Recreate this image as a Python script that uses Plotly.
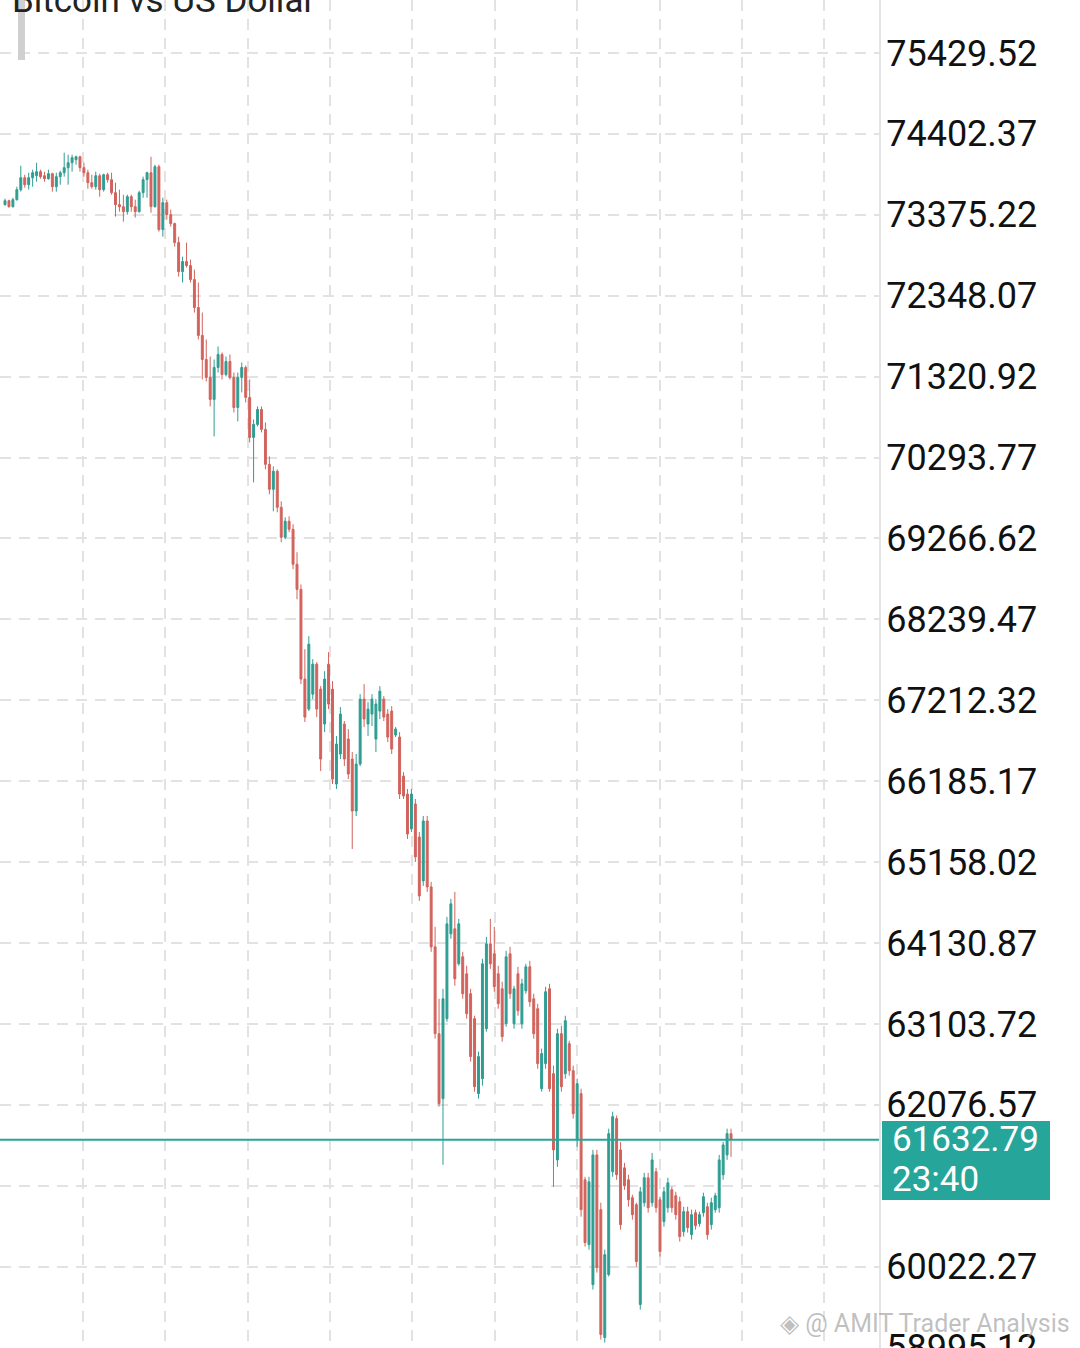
import plotly.graph_objects as go

# OHLC, one candle per slot, left to right
opens = [
    73504, 73554, 73478, 73567, 73694, 73846, 73757, 73846, 73871, 73922,
    73871, 73833, 73897, 73732, 73859, 73909, 73973, 74036, 74074, 74112,
    73973, 73909, 73783, 73732, 73871, 73694, 73884, 73821, 73656, 73504,
    73478, 73415, 73605, 73478, 73415, 73656, 73821, 73909, 73478, 73985,
    73187, 73529, 73377, 73263, 73022, 72654, 72781, 72730, 72553, 72198,
    71843, 71538, 71310, 71031, 71437, 71602, 71348, 71513, 71310, 70929,
    71310, 71437, 71057, 70549, 70714, 70904, 70651, 70207, 69890, 70119,
    69662, 69281, 69485, 69383, 68939,
    68620, 67481, 67100, 67290, 67671, 67354, 66911, 67671, 67354, 66149,
    66530, 66911, 66720, 66466, 65807, 66403, 67227, 66911, 67037, 66720,
    67075, 67227, 67037, 67075, 66771, 66745, 66250, 66022, 65579, 65896,
    65477, 64919, 65680, 64843, 64082, 62980, 62155, 63170, 64247, 64311,
    63867, 63956, 63740, 63487, 63170, 62219, 62409, 63043, 64120, 63994,
    63740, 63550, 63107, 63994, 63107, 63740, 63107, 63525, 63829, 63423,
    63297, 62282, 62600, 63550, 62472, 61378, 62980, 62472, 62853, 62510,
    61631, 62219, 61125, 60303, 59795, 61441, 60746, 59123, 59922, 61227,
    61902, 61505, 61277, 61125, 60898, 60809, 59542, 60834, 61151, 60834,
    61227, 60872, 60594, 60771, 60999, 60923, 60847, 60467, 60721, 60429,
    60708, 60569, 60708, 60784, 60556, 60746, 60771, 61189, 61441, 61711,
]
highs = [
    73580, 73567, 73592, 73732, 73998, 73884, 73909, 73947, 74036, 73947,
    73922, 73947, 73909, 73909, 73935, 74163, 74138, 74138, 74125, 74125,
    74036, 73947, 73884, 73922, 73897, 73897, 73909, 73909, 73783, 73694,
    73630, 73630, 73630, 73567, 73681, 73859, 73922, 74112, 74011, 74011,
    73592, 73567, 73440, 73275, 73098, 72844, 73022, 72806, 72680, 72515,
    72134, 71792, 71576, 71538, 71703, 71627, 71576, 71602, 71373, 71373,
    71500, 71462, 71285, 70777, 70942, 70942, 70739, 70308, 70182, 70144,
    69738, 69535, 69548, 69447, 69092,
    68683, 67861, 68026, 67734, 67696, 67392, 67582, 67823, 67455, 66758,
    67126, 66949, 66847, 66555, 66530, 67290, 67417, 67189, 67290, 67227,
    67392, 67265, 67100, 67138, 66873, 66809, 66301, 66086, 66086, 65959,
    65541, 65744, 65744, 64907, 64336, 63423, 63550, 64463, 64691, 64780,
    64437, 64019, 63842, 63550, 63208, 62752, 63931, 64209, 64437, 64336,
    63842, 63639, 64032, 64082, 63588, 63829, 63677, 63867, 63905, 63487,
    63360, 62790, 63575, 63613, 62575, 63043, 63081, 63208, 62891, 62575,
    62409, 62282, 61163, 61163, 61505, 61505, 60834, 60239, 61774, 61990,
    61940, 61606, 61340, 61189, 60935, 60834, 61036, 61214, 61214, 61466,
    61277, 60910, 61036, 61151, 61036, 60973, 60910, 60784, 60784, 60746,
    60746, 60721, 60961, 60834, 60898, 60961, 61441, 61606, 61774, 61774,
]
lows = [
    73491, 73466, 73466, 73554, 73669, 73719, 73694, 73732, 73795, 73833,
    73795, 73821, 73669, 73669, 73757, 73859, 73757, 73922, 74011, 73922,
    73859, 73707, 73707, 73694, 73605, 73669, 73783, 73630, 73352, 73415,
    73288, 73377, 73415, 73339, 73402, 73592, 73592, 73402, 73466, 73161,
    73098, 73313, 73225, 72971, 72591, 72515, 72705, 72515, 72134, 71792,
    71285, 71259, 70942, 70562, 71373, 71285, 71323, 71285, 70866, 70752,
    71120, 70993, 70486, 69979, 70689, 70613, 70144, 69827, 69611, 69599,
    69218, 69256, 69345, 68876, 68495,
    67417, 66936, 67075, 67227, 66999, 66314, 66809, 67100, 66149, 66086,
    66466, 66377, 66212, 65325, 65744, 66377, 66873, 66758, 66885, 66555,
    66974, 66949, 66682, 66530, 66745, 65959, 65959, 65452, 65541, 65160,
    64666, 64856, 64780, 64019, 62917, 62054, 61315, 63132, 64184, 63588,
    63842, 63423, 63170, 62625, 62244, 62155, 62320, 63005, 63803, 63512,
    63297, 62879, 63069, 63423, 63043, 63208, 63043, 63487, 63322, 62917,
    62535, 62244, 62535, 62244, 61036, 61290, 62244, 62409, 62447, 61902,
    61543, 60657, 60277, 60239, 59732, 59947, 59097, 59059, 59897, 61163,
    61125, 60493, 60999, 60784, 60619, 60023, 59478, 60784, 60708, 60784,
    60708, 60150, 60531, 60708, 60708, 60619, 60341, 60404, 60455, 60366,
    60493, 60531, 60657, 60366, 60493, 60708, 60708, 61125, 61378, 61416,
]
closes = [
    73554, 73478, 73567, 73694, 73846, 73757, 73846, 73909, 73922, 73859,
    73833, 73897, 73732, 73859, 73909, 73973, 74036, 74100, 74112, 73973,
    73909, 73783, 73732, 73871, 73694, 73884, 73821, 73656, 73504, 73478,
    73415, 73605, 73478, 73415, 73656, 73821, 73909, 73478, 73985, 73187,
    73529, 73377, 73263, 73022, 72654, 72781, 72730, 72553, 72198, 71843,
    71538, 71310, 71031, 71437, 71602, 71348, 71513, 71310, 70929, 71310,
    71437, 71057, 70549, 70714, 70904, 70651, 70207, 69890, 70119, 69662,
    69281, 69485, 69383, 68939, 68620,
    67481, 66999, 67924, 67671, 67100, 66466, 67481, 67164, 66212, 66657,
    67037, 66466, 66276, 65807, 66403, 67227, 66974, 67100, 67227, 67164,
    67328, 66999, 66745, 66593, 66847, 66022, 65997, 65515, 66022, 65224,
    64729, 65680, 64843, 64082, 62980, 62092, 63423, 64374, 64628, 63677,
    64374, 63487, 63233, 62689, 62307, 62689, 63867, 64120, 63867, 63575,
    63360, 62942, 63956, 63487, 63550, 63271, 63613, 63829, 63385, 62980,
    62600, 62727, 63512, 62282, 61505, 62980, 62307, 63145, 62510, 61965,
    62345, 60746, 60328, 61100, 61441, 60011, 59161, 60175, 61711, 61927,
    61189, 60556, 61049, 60872, 60683, 60087, 60973, 61151, 60771, 61378,
    60771, 60214, 60973, 61087, 60771, 60683, 60404, 60721, 60518, 60683,
    60543, 60683, 60910, 60429, 60834, 60923, 61378, 61568, 61711, 61632.79,
]

price_ticks = [75429.52, 74402.37, 73375.22, 72348.07, 71320.92, 70293.77,
               69266.62, 68239.47, 67212.32, 66185.17, 65158.02, 64130.87,
               63103.72, 62076.57, 61049.42, 60022.27, 58995.12]
price_labels = ["75429.52", "74402.37", "73375.22", "72348.07", "71320.92",
                "70293.77", "69266.62", "68239.47", "67212.32", "66185.17",
                "65158.02", "64130.87", "63103.72", "62076.57", "",
                "60022.27", "58995.12"]
last_time = "23:40"

UP = "#2f9d92"
DOWN = "#d2635c"
TEAL = "#26a69a"
GRID = "#e2e2e2"

W, H = 1080, 1348
PLOT_W = 879
y_lo, y_hi = 58990, 76101.6
x_lo, x_hi = -1.27, 221.5

fig = go.Figure(go.Candlestick(
    x=list(range(len(closes))),
    open=opens, high=highs, low=lows, close=closes,
    increasing=dict(line=dict(color=UP, width=1), fillcolor=UP),
    decreasing=dict(line=dict(color=DOWN, width=1), fillcolor=DOWN),
    hoverinfo="skip",
    showlegend=False,
))

last = closes[-1]
fig.add_shape(type="line", xref="paper", yref="y", x0=0, x1=1, y0=last, y1=last,
              line=dict(color=TEAL, width=2))

# price tag on the axis
fig.add_shape(type="rect", xref="paper", yref="paper",
              x0=882 / PLOT_W, x1=1050 / PLOT_W,
              y0=1 - 1200 / H, y1=1 - 1121 / H,
              fillcolor=TEAL, line=dict(width=0), layer="above")
fig.add_annotation(xref="paper", yref="y", x=890 / PLOT_W, y=last,
                   xanchor="left", yanchor="middle", showarrow=False,
                   text=f"{last:.2f}", font=dict(family="Roboto", size=35, color="white"))
fig.add_annotation(xref="paper", yref="y", x=890 / PLOT_W, y=last, yshift=-40,
                   xanchor="left", yanchor="middle", showarrow=False,
                   text=last_time, font=dict(family="Roboto", size=35, color="white"))

# cut-off title and scroll handle at the top
fig.add_annotation(xref="paper", yref="paper", x=10 / PLOT_W, y=1, yshift=-23,
                   xanchor="left", yanchor="bottom", showarrow=False,
                   text="Bitcoin vs US Dollar",
                   font=dict(family="Roboto", size=35, color="#222222"))
fig.add_shape(type="rect", xref="paper", yref="paper",
              x0=18 / PLOT_W, x1=25 / PLOT_W, y0=1 - 60 / H, y1=1.01,
              fillcolor="#d0d0d0", line=dict(width=0), layer="above")

# watermark
fig.add_annotation(xref="paper", yref="paper", x=1072 / PLOT_W, y=1 - 1323 / H,
                   xanchor="right", yanchor="middle", showarrow=False,
                   text="◈ @ AMIT Trader Analysis",
                   font=dict(family="Roboto", size=25, color="rgba(150,150,150,0.6)"))

step = 20.88
fig.update_xaxes(
    range=[x_lo, x_hi], rangeslider=dict(visible=False),
    tickvals=[-1.14 + step * k for k in range(11)],
    showticklabels=False, ticks="", automargin=False,
    showgrid=True, gridcolor=GRID, gridwidth=1.5, griddash="11px,8px",
    zeroline=False, showline=False, fixedrange=True,
)
fig.update_yaxes(
    range=[y_lo, y_hi], side="right", automargin=False,
    tickvals=price_ticks, ticktext=price_labels, ticks="",
    ticklabelstandoff=-2, ticklabeloverflow="allow",
    tickfont=dict(family="Roboto", size=36, color="#111111"),
    showgrid=True, gridcolor=GRID, gridwidth=1.5, griddash="11px,8px",
    zeroline=False, showline=True, linecolor="#e4e4e4", linewidth=2,
)
fig.update_layout(
    width=W, height=H,
    margin=dict(l=0, r=W - PLOT_W, t=0, b=0, autoexpand=False),
    plot_bgcolor="white", paper_bgcolor="white",
)

fig.write_html("out.html", config={"displayModeBar": False},
               post_script="document.body.style.margin = '0';")
